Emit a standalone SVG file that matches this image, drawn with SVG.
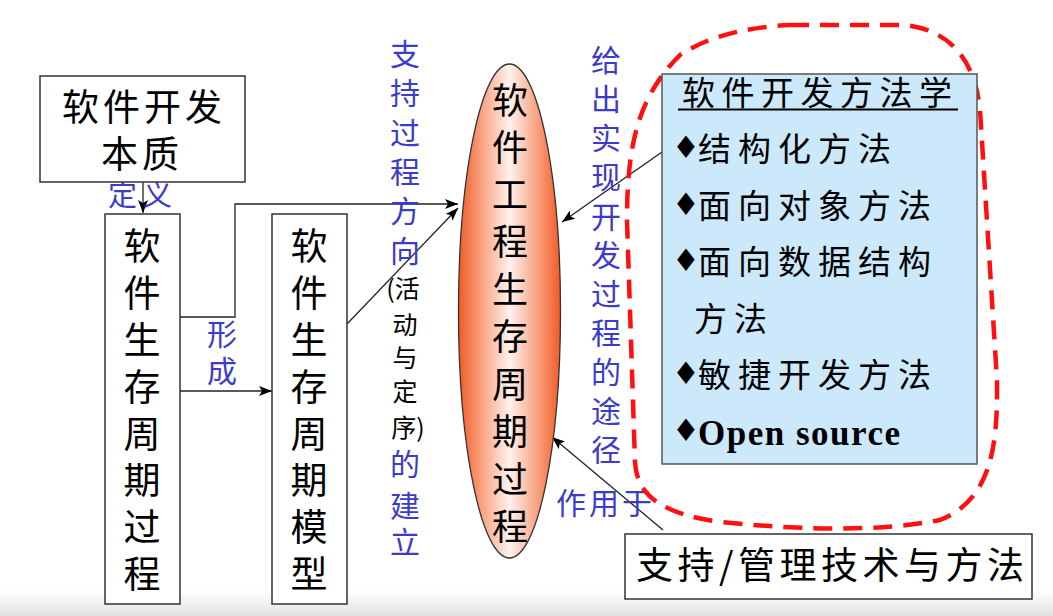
<svg xmlns="http://www.w3.org/2000/svg" width="1053" height="616" viewBox="0 0 1053 616">
<style>
.cjk{font-family:"Noto Sans CJK SC","Noto Sans",sans-serif;fill:#000}
.blue{font-family:"Noto Sans CJK SC","Noto Sans",sans-serif;fill:#3c3cc8}
.box{fill:#fff;stroke:#333;stroke-width:1.5}
.conn{stroke:#222;stroke-width:1.3;fill:none}
.dia{font-family:"DejaVu Sans",sans-serif;font-size:31px;letter-spacing:0}
.m{font-size:33px;letter-spacing:7px}
.os{font-family:"Liberation Serif",serif;font-weight:bold;font-size:35px;letter-spacing:1.5px}
</style>
<defs>
<marker id="ah" markerUnits="userSpaceOnUse" markerWidth="14" markerHeight="10" refX="13" refY="5" orient="auto">
<path d="M0,0 L13,5 L0,10 L3,5 Z" fill="#000"/>
</marker>
<linearGradient id="eg" x1="0" y1="0" x2="1" y2="0">
<stop offset="0" stop-color="#f25a24"/>
<stop offset="0.25" stop-color="#f9a888"/>
<stop offset="0.5" stop-color="#fff2ee"/>
<stop offset="0.75" stop-color="#f9a888"/>
<stop offset="1" stop-color="#f25a24"/>
</linearGradient>
<linearGradient id="bg" x1="0" y1="0" x2="0" y2="1">
<stop offset="0" stop-color="#ffffff"/>
<stop offset="1" stop-color="#e2e2e2"/>
</linearGradient>
</defs>
<rect width="1053" height="616" fill="#fff"/>
<rect x="0" y="590" width="1053" height="26" fill="url(#bg)"/>

<g id="connectors">
<line class="conn" x1="143" y1="182" x2="143" y2="213" marker-end="url(#ah)"/>
<polyline class="conn" points="180,317 235,317 235,204 458,204" marker-end="url(#ah)"/>
<line class="conn" x1="180" y1="391" x2="272" y2="391" marker-end="url(#ah)"/>
<line class="conn" x1="347" y1="324" x2="458" y2="208" marker-end="url(#ah)"/>
<line class="conn" x1="662" y1="152" x2="562" y2="222" marker-end="url(#ah)"/>
<line class="conn" x1="663" y1="530" x2="552" y2="437" marker-end="url(#ah)"/>
</g>

<g id="labels">
<text class="blue" font-size="29" x="108" y="206" letter-spacing="6">定义</text>
<text class="blue" font-size="30" text-anchor="middle"><tspan x="222" y="345">形</tspan><tspan x="222" y="382">成</tspan></text>
<text class="blue" font-size="30" text-anchor="middle"><tspan x="405" y="65">支</tspan><tspan x="405" y="104">持</tspan><tspan x="405" y="144">过</tspan><tspan x="405" y="183">程</tspan><tspan x="405" y="222">方</tspan><tspan x="405" y="262">向</tspan></text>
<text class="cjk" font-size="25" text-anchor="middle"><tspan x="403" y="298">(活</tspan><tspan x="405" y="334">动</tspan><tspan x="405" y="367">与</tspan><tspan x="405" y="401">定</tspan><tspan x="408" y="437">序)</tspan></text>
<text class="blue" font-size="30" text-anchor="middle"><tspan x="405" y="475">的</tspan><tspan x="405" y="517">建</tspan><tspan x="405" y="553">立</tspan></text>
<text class="blue" font-size="30" text-anchor="middle"><tspan x="606" y="71">给</tspan><tspan x="606" y="110">出</tspan><tspan x="606" y="149">实</tspan><tspan x="606" y="188">现</tspan><tspan x="606" y="228">开</tspan><tspan x="606" y="266">发</tspan><tspan x="606" y="305">过</tspan><tspan x="606" y="344">程</tspan><tspan x="606" y="383">的</tspan><tspan x="606" y="422">途</tspan><tspan x="606" y="461">径</tspan></text>
<text class="blue" font-size="30" x="556" y="514" letter-spacing="3">作用于</text>
</g>

<path id="methodology-outline" d="M790,25 L905,25 C950,30 975,60 980,110 L997,380 C998,450 990,500 940,520 C880,532 800,530 720,522 C665,514 637,498 635,462 L627,220 C627,140 640,95 680,55 C710,35 750,27 790,25 Z" fill="none" stroke="#ff1010" stroke-width="4.5" stroke-dasharray="19,11"/>

<g id="node-essence">
<rect class="box" x="40" y="76" width="205" height="106"/>
<text class="cjk" font-size="37" x="62" y="121" letter-spacing="4">软件开发</text>
<text class="cjk" font-size="37" x="101" y="168" letter-spacing="4">本质</text>
</g>

<g id="node-process">
<rect class="box" x="105" y="214" width="75" height="390"/>
<text class="cjk" font-size="37" text-anchor="middle"><tspan x="142" y="260">软</tspan><tspan x="142" y="307">件</tspan><tspan x="142" y="354">生</tspan><tspan x="142" y="401">存</tspan><tspan x="142" y="448">周</tspan><tspan x="142" y="494">期</tspan><tspan x="142" y="541">过</tspan><tspan x="142" y="588">程</tspan></text>
</g>

<g id="node-model">
<rect class="box" x="272" y="214" width="75" height="390"/>
<text class="cjk" font-size="37" text-anchor="middle"><tspan x="309" y="260">软</tspan><tspan x="309" y="307">件</tspan><tspan x="309" y="354">生</tspan><tspan x="309" y="401">存</tspan><tspan x="309" y="448">周</tspan><tspan x="309" y="494">期</tspan><tspan x="309" y="541">模</tspan><tspan x="309" y="588">型</tspan></text>
</g>

<g id="node-lifecycle">
<ellipse cx="509.5" cy="311" rx="51" ry="247" fill="url(#eg)" stroke="#333" stroke-width="1.3"/>
<text class="cjk" font-size="36" text-anchor="middle"><tspan x="510" y="114">软</tspan><tspan x="510" y="161">件</tspan><tspan x="510" y="208">工</tspan><tspan x="510" y="255">程</tspan><tspan x="510" y="303">生</tspan><tspan x="510" y="350">存</tspan><tspan x="510" y="398">周</tspan><tspan x="510" y="445">期</tspan><tspan x="510" y="493">过</tspan><tspan x="510" y="540">程</tspan></text>
</g>

<g id="node-methodology">
<rect x="662" y="74" width="315" height="390" fill="#cce9fb" stroke="#555" stroke-width="1.5"/>
<text class="cjk" font-size="33" x="682" y="105" letter-spacing="6.5">软件开发方法学</text>
<line x1="678" y1="109.5" x2="958" y2="109.5" stroke="#000" stroke-width="2"/>
<text class="cjk"><tspan class="dia" x="672" y="158">♦</tspan><tspan class="m" x="698" y="161">结构化方法</tspan></text>
<text class="cjk"><tspan class="dia" x="672" y="215">♦</tspan><tspan class="m" x="698" y="218">面向对象方法</tspan></text>
<text class="cjk"><tspan class="dia" x="672" y="271">♦</tspan><tspan class="m" x="698" y="274">面向数据结构</tspan><tspan class="m" x="694" y="331">方法</tspan></text>
<text class="cjk"><tspan class="dia" x="672" y="384">♦</tspan><tspan class="m" x="698" y="387">敏捷开发方法</tspan></text>
<text class="cjk"><tspan class="dia" x="672" y="441">♦</tspan><tspan class="os" x="698" y="445">Open source</tspan></text>
</g>

<g id="node-support">
<rect class="box" x="625" y="534" width="407" height="65"/>
<text class="cjk" font-size="37" x="636" y="579" letter-spacing="4.5">支持/管理技术与方法</text>
</g>
</svg>
